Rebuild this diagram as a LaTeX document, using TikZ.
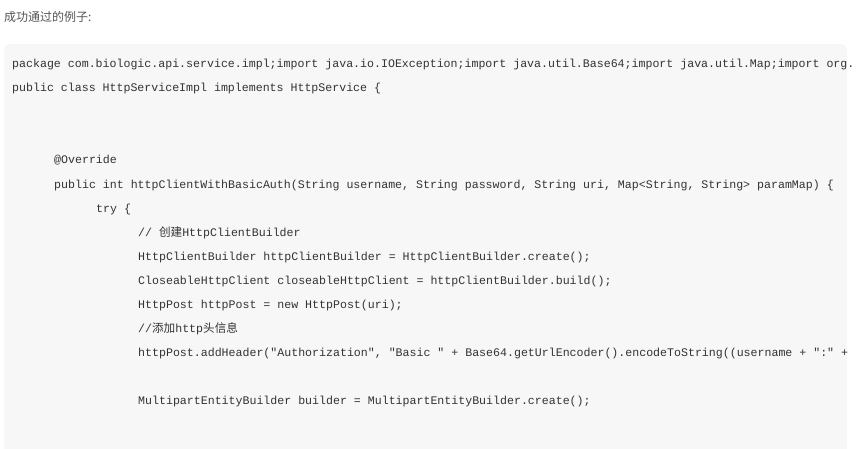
\documentclass[tikz,border=0pt]{standalone}
\usepackage{fontspec}
\newfontfamily\codefont{Liberation Mono}
\newfontfamily\cjk{Noto Sans CJK SC}
\definecolor{codebg}{HTML}{F7F7F8}
\definecolor{codetext}{HTML}{333333}
\definecolor{titletext}{HTML}{555555}
\tikzset{
  codeline/.style={anchor=base west, inner sep=0pt, text=codetext, font=\codefont\fontsize{11.6pt}{14pt}\selectfont},
}
\begin{document}
\begin{tikzpicture}[x=1pt, y=1pt]
	\useasboundingbox (0,0) rectangle (858,-449);
	\clip (0,0) rectangle (858,-449);
	
	\node[anchor=base west, inner sep=0pt, text=titletext, font=\cjk\fontsize{12pt}{14pt}\selectfont] (title) at (4,-22) {成功通过的例子:};
	\fill[codebg, rounded corners=6pt] (4,-44) rectangle (847,-470);
	
	\node[codeline] (l1)  at (12,-68)  {package com.biologic.api.service.impl;import java.io.IOException;import java.util.Base64;import java.util.Map;import org.};
	\node[codeline] (l2)  at (12,-92)  {public class HttpServiceImpl implements HttpService \{};
	\node[codeline] (l3)  at (54,-164) {@Override};
	\node[codeline] (l4)  at (54,-188) {public int httpClientWithBasicAuth(String username, String password, String uri, Map<String, String> paramMap) \{};
	\node[codeline] (l5)  at (96,-212) {try \{};
	\node[codeline] (l6)  at (138,-236) {// {\cjk 创建}HttpClientBuilder};
	\node[codeline] (l7)  at (138,-260) {HttpClientBuilder httpClientBuilder = HttpClientBuilder.create();};
	\node[codeline] (l8)  at (138,-284) {CloseableHttpClient closeableHttpClient = httpClientBuilder.build();};
	\node[codeline] (l9)  at (138,-308) {HttpPost httpPost = new HttpPost(uri);};
	\node[codeline] (l10) at (138,-332) {//{\cjk 添加}http{\cjk 头信息}};
	\node[codeline] (l11) at (138,-356) {httpPost.addHeader("Authorization", "Basic " + Base64.getUrlEncoder().encodeToString((username + ":" +};
	\node[codeline] (l12) at (138,-404) {MultipartEntityBuilder builder = MultipartEntityBuilder.create();};
\end{tikzpicture}
\end{document}
